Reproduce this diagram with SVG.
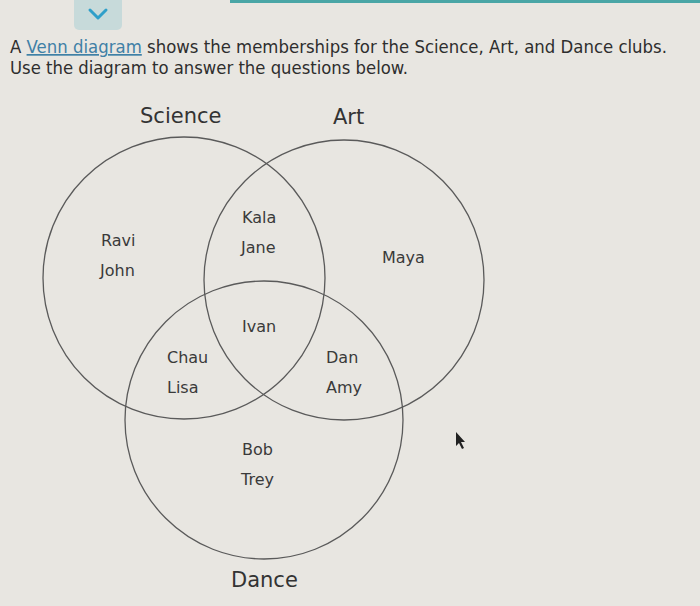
<svg xmlns="http://www.w3.org/2000/svg" width="700" height="606" viewBox="0 0 700 606">
  <style>
    .bg { fill: #e8e6e1; }
    .set { fill: none; stroke: #5a5a5a; stroke-width: 1.3; }
    .title { font-family: "DejaVu Sans", Verdana, sans-serif; font-size: 21px; fill: #333; }
    .name { font-family: "DejaVu Sans", Verdana, sans-serif; font-size: 16px; fill: #3a3a3a; }
    .head { font-family: "DejaVu Sans", Verdana, sans-serif; font-size: 17px; fill: #2e2e2e; }
    .link { fill: #3f80a6; text-decoration: underline; }
  </style>
  <rect class="bg" x="0" y="0" width="700" height="606"/>
  <rect x="230" y="0" width="470" height="3" fill="#4aa6a6"/>
  <g id="toggle">
    <rect x="74" y="-8" width="48" height="38" rx="5" fill="#c7dada"/>
    <polyline points="90,10 98,18 106,10" fill="none" stroke="#2f9fc9" stroke-width="3" stroke-linecap="round" stroke-linejoin="round"/>
  </g>
  <g id="heading">
    <text class="head" x="10" y="53" textLength="657" lengthAdjust="spacingAndGlyphs">A <tspan class="link">Venn diagram</tspan> shows the memberships for the Science, Art, and Dance clubs.</text>
    <text class="head" x="10" y="74" textLength="398" lengthAdjust="spacingAndGlyphs">Use the diagram to answer the questions below.</text>
  </g>
  <g id="science">
    <circle class="set" cx="184" cy="278" r="141"/>
    <text class="title" x="140" y="123">Science</text>
  </g>
  <g id="art">
    <circle class="set" cx="344" cy="280" r="140"/>
    <text class="title" x="333" y="124">Art</text>
  </g>
  <g id="dance">
    <circle class="set" cx="264" cy="420" r="139"/>
    <text class="title" x="231" y="587">Dance</text>
  </g>
  <g id="science-only">
    <text class="name" x="101" y="246">Ravi</text>
    <text class="name" x="100" y="276">John</text>
  </g>
  <g id="science-art">
    <text class="name" x="242" y="223">Kala</text>
    <text class="name" x="241" y="253">Jane</text>
  </g>
  <g id="art-only">
    <text class="name" x="382" y="263">Maya</text>
  </g>
  <g id="all-three">
    <text class="name" x="242" y="332">Ivan</text>
  </g>
  <g id="science-dance">
    <text class="name" x="167" y="363">Chau</text>
    <text class="name" x="167" y="393">Lisa</text>
  </g>
  <g id="art-dance">
    <text class="name" x="326" y="363">Dan</text>
    <text class="name" x="326" y="393">Amy</text>
  </g>
  <g id="dance-only">
    <text class="name" x="242" y="455">Bob</text>
    <text class="name" x="241" y="485">Trey</text>
  </g>
  <g id="connectors"></g>
  <polygon points="456,432 456,446 459,443 462,449 464,448 461,442 465,442" fill="#222"/>
</svg>
